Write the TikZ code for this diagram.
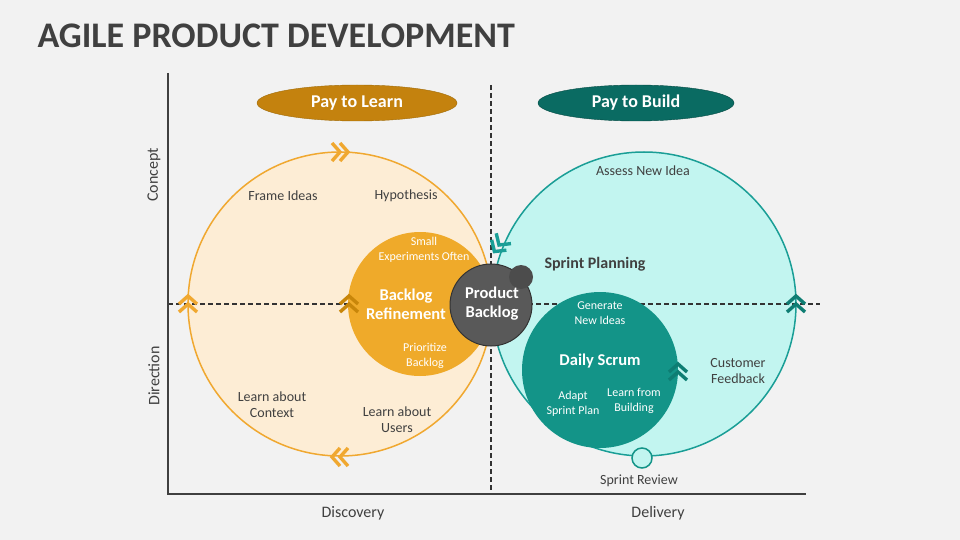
\documentclass[tikz,border=0pt]{standalone}
\usepackage{fontspec}
\setmainfont{Carlito}
\usetikzlibrary{shapes.geometric}
\begin{document}
\begin{tikzpicture}[x=1pt,y=-1pt,
  lbl/.style={font=\fontsize{14}{16}\selectfont,text=black!75,align=center},
  ax/.style={font=\fontsize{16}{18}\selectfont,text=black!75,align=center},
  wl/.style={font=\fontsize{12}{15}\selectfont,text=white,align=center},
  wb/.style={font=\bfseries\fontsize{16.5}{19}\selectfont,text=white,align=center},
  dsh/.style={dash pattern=on 5pt off 3pt,line width=1.4pt,black!80},
  chev/.pic={\draw[line width=3.4pt,miter limit=10,pic actions] (-8,-9)--(0,0)--(-8,9) (0,-9)--(8,0)--(0,9);}]
\definecolor{bg}{HTML}{F2F2F2}
\definecolor{ob}{HTML}{F0A830}
\definecolor{of}{HTML}{FDEDD5}
\definecolor{oi}{HTML}{EFAA2A}
\definecolor{od}{HTML}{C8860A}
\definecolor{pl}{HTML}{C4820E}
\definecolor{tb}{HTML}{1A9E96}
\definecolor{tf}{HTML}{C2F5F0}
\definecolor{ti}{HTML}{139488}
\definecolor{td}{HTML}{0E7D73}
\definecolor{pb}{HTML}{0A6B62}
\definecolor{gr}{HTML}{595959}
\fill[bg] (0,0) rectangle (960,540);
\useasboundingbox (0,0) rectangle (960,540);
\node[anchor=west,font=\bfseries\fontsize{36}{40}\selectfont,text=black!75] (title) at (34,36) {AGILE PRODUCT DEVELOPMENT};
% big circles
\fill[tf] (644,304) circle (152);
\fill[of] (340,304) circle (152);
\draw[ob,line width=1.5pt] (340,304) circle (152);
\draw[tb,line width=1.5pt] (644,304) circle (152);
% dashed axes
\draw[dsh] (491,85) -- (491,494);
\draw[dsh] (168,304) -- (820,304);
% axes
\draw[line width=1.2pt,black!75] (168,73) -- (168,494) -- (806,494);
% inner circles
\node[circle,fill=oi,minimum size=144pt,inner sep=0] (br) at (420,304) {};
\node[circle,fill=ti,minimum size=156pt,inner sep=0] (ds) at (600,370) {};
\node[circle,fill=gr,draw=black!80,line width=1pt,minimum size=82pt,inner sep=0] (pbk) at (491,305) {};
\node[circle,fill=black!70,minimum size=24pt,inner sep=0] (dot) at (521,277) {};
\node[circle,fill=tf,draw=ti,line width=1.5pt,minimum size=20pt,inner sep=0] (sr) at (642,458) {};
% ellipses
\node[ellipse,fill=pl,draw=od!80!black,minimum width=200pt,minimum height=36pt,font=\bfseries\fontsize{18}{20}\selectfont,text=white] (ptl) at (357,103) {Pay to Learn};
\node[ellipse,fill=pb,draw=pb!70!black,minimum width=196pt,minimum height=36pt,font=\bfseries\fontsize{18}{20}\selectfont,text=white] (ptb) at (636,103) {Pay to Build};
% chevrons
\pic[ob] at (340,152) {chev};
\pic[ob,rotate=180] at (340,457) {chev};
\pic[ob,rotate=90] at (188,304) {chev};
\pic[od,rotate=90] at (349,304) {chev};
\pic[tb,rotate=235] at (499,245) {chev};
\pic[td,rotate=90] at (796,304) {chev};
\pic[td,rotate=90] at (678,372) {chev};
% labels
\node[lbl] (fi) at (283,196) {Frame Ideas};
\node[lbl] (hy) at (406,196) {Hypothesis};
\node[lbl] (lc) at (272,405) {Learn about\\Context};
\node[lbl] (lu) at (397,420) {Learn about\\Users};
\node[lbl] (ani) at (643,171) {Assess New Idea};
\node[lbl] (cf) at (738,371) {Customer\\Feedback};
\node[lbl] (srl) at (639,481) {Sprint Review};
\node[ax] (disc) at (353,513) {Discovery};
\node[ax] (del) at (658,513) {Delivery};
\node[ax,rotate=90] (con) at (154,175) {Concept};
\node[ax,rotate=90] (dir) at (154,376) {Direction};
\node[font=\bfseries\fontsize{16}{18}\selectfont,text=black!75,anchor=west] (sp) at (541,264) {Sprint Planning};
\node[wl] (se) at (424,250) {Small\\Experiments Often};
\node[wb] (brl) at (406,304) {Backlog\\Refinement};
\node[wl] (pri) at (425,356) {Prioritize\\Backlog};
\node[wb] (pbl) at (492,304) {Product\\Backlog};
\node[wl] (gni) at (600,313) {Generate\\New Ideas};
\node[wb] (dsl) at (600,361) {Daily Scrum};
\node[wl] (asp) at (573,404) {Adapt\\Sprint Plan};
\node[wl] (lfb) at (634,401) {Learn from\\Building};
\end{tikzpicture}
\end{document}
